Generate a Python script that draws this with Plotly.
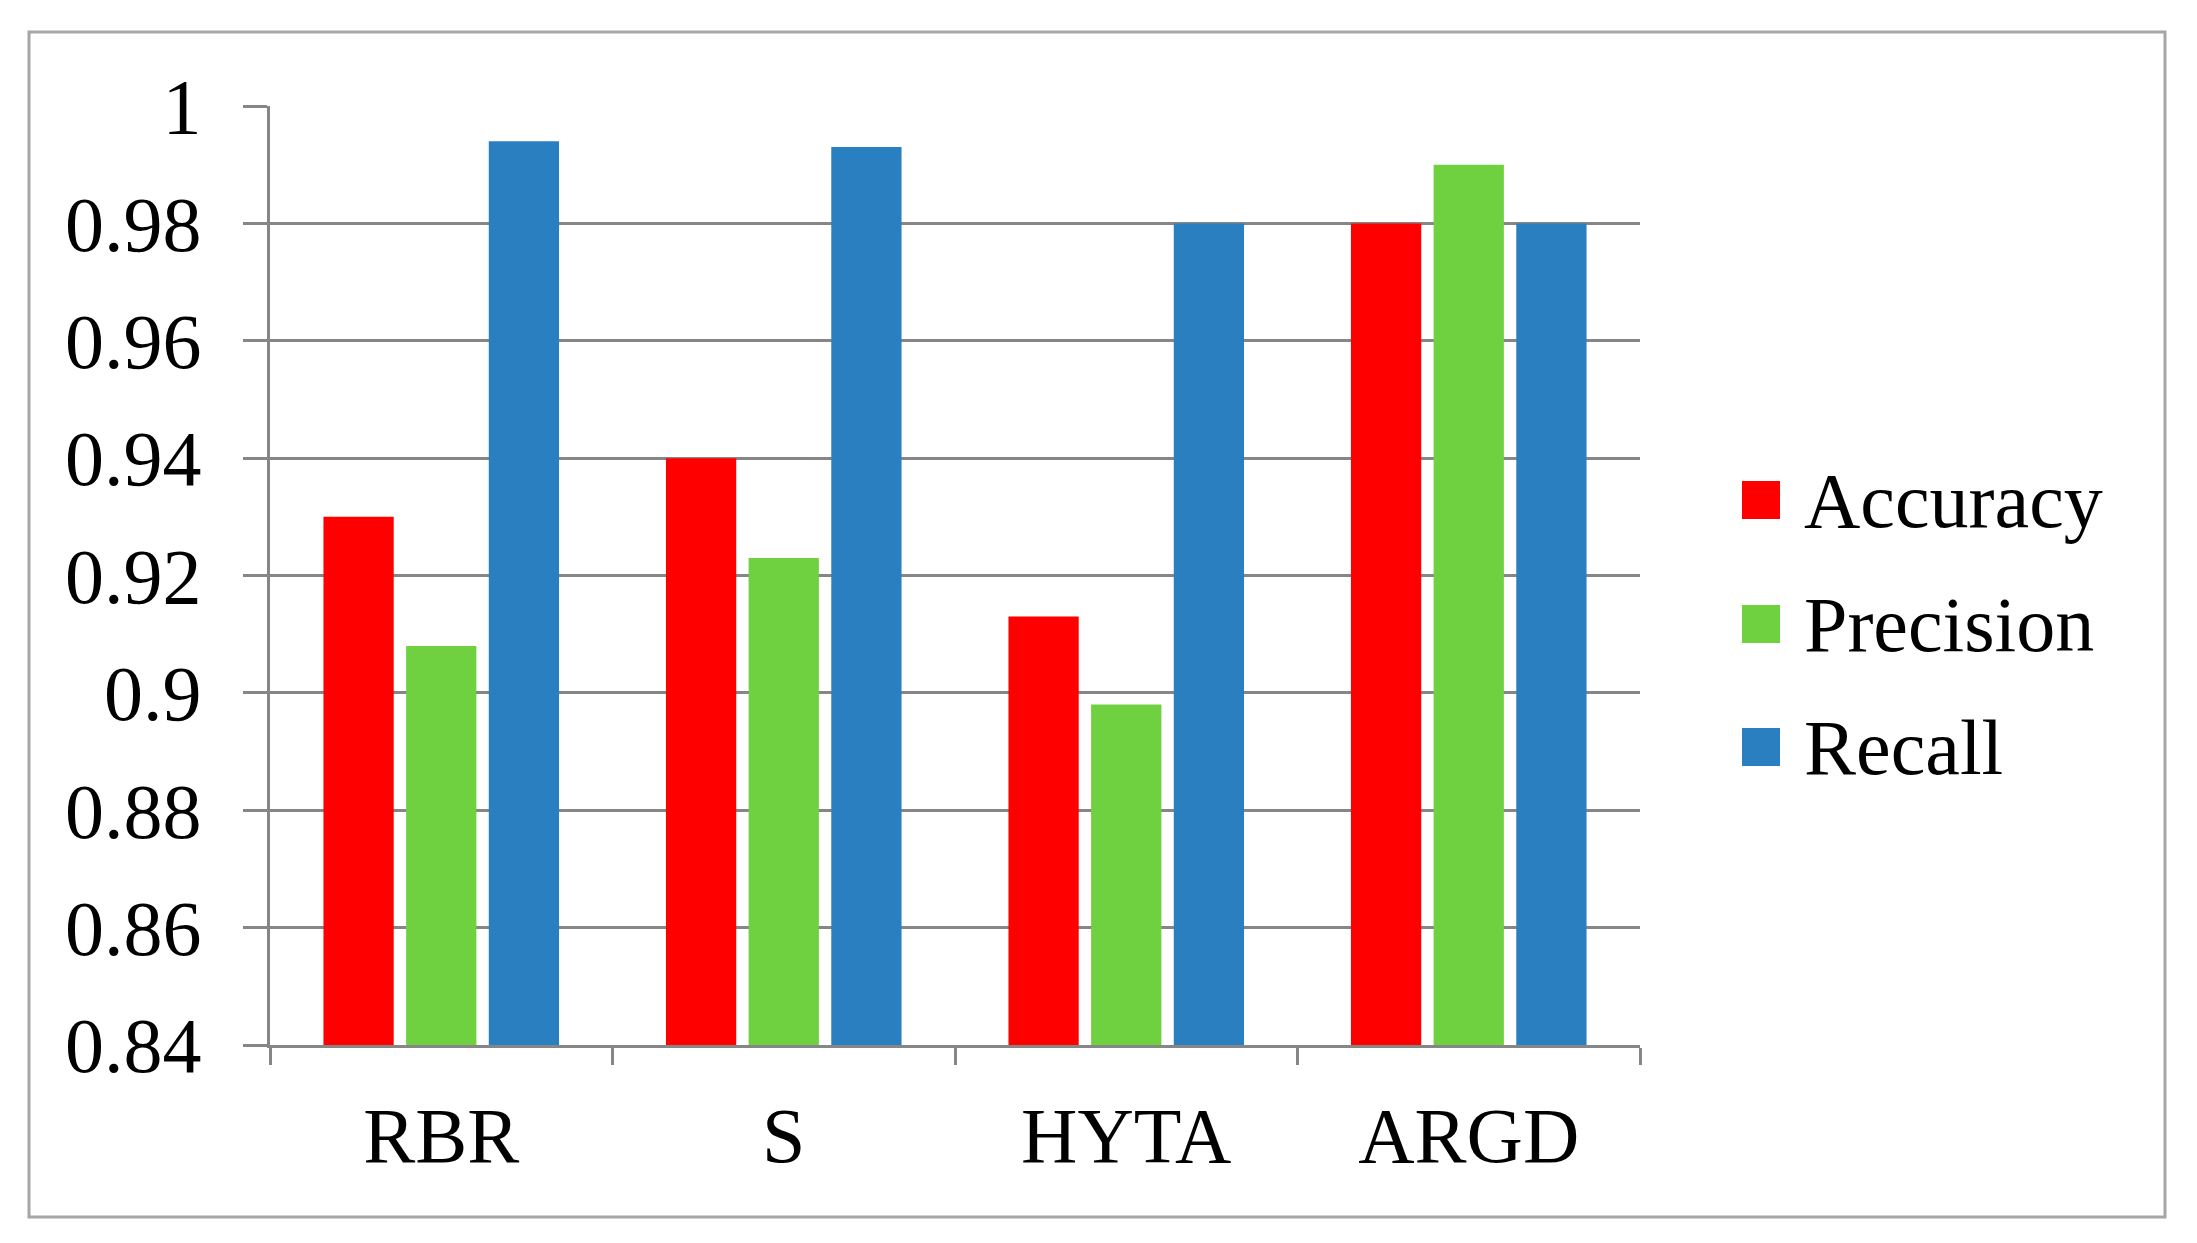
import plotly.graph_objects as go

categories = ["RBR", "S", "HYTA", "ARGD"]
series_names = ["Accuracy", "Precision", "Recall"]
accuracy = [0.930, 0.940, 0.913, 0.980]
precision = [0.908, 0.923, 0.898, 0.990]
recall = [0.994, 0.993, 0.980, 0.980]
y_ticks = [0.84, 0.86, 0.88, 0.90, 0.92, 0.94, 0.96, 0.98, 1.0]
colors = ["#FF0000", "#6FD140", "#2A7FC0"]

W, H = 2197, 1243
FONT = "Liberation Serif"
FS = 78
GRID = "#868686"

fig = go.Figure()
for name, vals, col in zip(series_names, [accuracy, precision, recall], colors):
    fig.add_trace(go.Bar(x=categories, y=vals, name=name, marker_color=col,
                         marker_line_width=0, showlegend=False))

mL, mR, mT, mB = 262, W - 1632, 98, H - 1037
pw, ph = W - mL - mR, H - mT - mB


def px2paper_x(px):
    return (px - mL) / pw


def px2paper_y(py):
    return (H - mB - py) / ph


# manual legend (large square symbols)
leg_x0, leg_y = 1734, [492, 616, 739]
sq = 38
for name, col, yc in zip(series_names, colors, leg_y):
    fig.add_shape(type="rect", xref="paper", yref="paper",
                  x0=px2paper_x(leg_x0), x1=px2paper_x(leg_x0 + sq),
                  y0=px2paper_y(yc + sq / 2), y1=px2paper_y(yc - sq / 2),
                  line_width=0, fillcolor=col)
    fig.add_annotation(xref="paper", yref="paper", x=px2paper_x(1794),
                       y=px2paper_y(yc), text=name, showarrow=False,
                       xanchor="left", yanchor="middle",
                       font=dict(family=FONT, size=FS, color="black"))

# outer border
fig.add_shape(type="rect", xref="paper", yref="paper",
              x0=px2paper_x(21), x1=px2paper_x(2157),
              y0=px2paper_y(1209), y1=px2paper_y(24),
              line=dict(color="#A6A6A6", width=3), fillcolor="rgba(0,0,0,0)",
              layer="below")

fig.update_layout(
    width=W, height=H,
    margin=dict(l=mL, r=mR, t=mT, b=mB),
    paper_bgcolor="white", plot_bgcolor="white",
    barmode="group", bargap=0.276, bargroupgap=0.15,
    font=dict(family=FONT, size=FS, color="black"),
    showlegend=False,
)
fig.update_yaxes(range=[0.84, 1.0], tickvals=y_ticks,
                 ticktext=[f"{v:g}" for v in y_ticks],
                 showgrid=True, gridcolor=GRID, gridwidth=3,
                 showline=True, linecolor=GRID, linewidth=3,
                 ticks="outside", ticklen=24, tickwidth=3, tickcolor=GRID,
                 ticklabelstandoff=26, zeroline=False,
                 tickfont=dict(family=FONT, size=FS, color="black"))
fig.update_xaxes(showline=True, linecolor=GRID, linewidth=3,
                 ticks="outside", tickson="boundaries", ticklen=17,
                 tickwidth=3, tickcolor=GRID, showgrid=False,
                 ticklabelstandoff=20,
                 tickfont=dict(family=FONT, size=FS, color="black"))

fig.write_html("out.html")
